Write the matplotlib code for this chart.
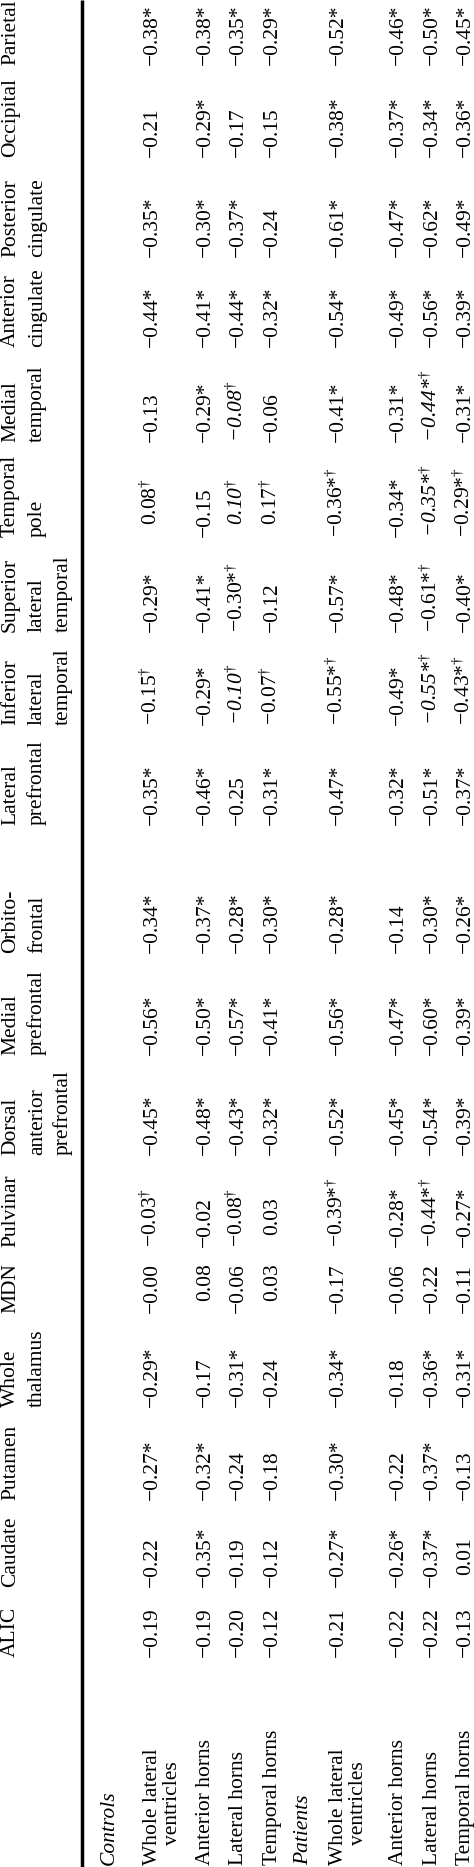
import matplotlib
matplotlib.use("Agg")
import matplotlib.pyplot as plt

plt.rcParams['font.family'] = ['Liberation Serif', 'DejaVu Serif']
plt.rcParams['mathtext.fontset'] = 'custom'
plt.rcParams['mathtext.rm'] = 'Liberation Serif'
plt.rcParams['mathtext.it'] = 'Liberation Serif:italic'
plt.rcParams['mathtext.fallback'] = 'stix'

# column headers (one entry per header line)
headers = [["ALIC"], ["Caudate"], ["Putamen"], ["Whole", "thalamus"], ["MDN"],
           ["Pulvinar"], ["Dorsal", "anterior", "prefrontal"], ["Medial", "prefrontal"],
           ["Orbito-", "frontal"], ["Lateral", "prefrontal"], ["Inferior", "lateral", "temporal"],
           ["Superior", "lateral", "temporal"], ["Temporal", "pole"], ["Medial", "temporal"],
           ["Anterior", "cingulate"], ["Posterior", "cingulate"], ["Occipital"], ["Parietal"]]

row_labels = ["Whole lateral\nventricles", "Anterior horns", "Lateral horns", "Temporal horns",
              "Whole lateral\nventricles", "Anterior horns", "Lateral horns", "Temporal horns"]
groups = ["Controls", "Patients"]

values = [
    ["-0.19", "-0.22", "-0.27*", "-0.29*", "-0.00", "-0.03†", "-0.45*", "-0.56*", "-0.34*", "-0.35*", "-0.15†", "-0.29*", "0.08†", "-0.13", "-0.44*", "-0.35*", "-0.21", "-0.38*"],
    ["-0.19", "-0.35*", "-0.32*", "-0.17", "0.08", "-0.02", "-0.48*", "-0.50*", "-0.37*", "-0.46*", "-0.29*", "-0.41*", "-0.15", "-0.29*", "-0.41*", "-0.30*", "-0.29*", "-0.38*"],
    ["-0.20", "-0.19", "-0.24", "-0.31*", "-0.06", "-0.08†", "-0.43*", "-0.57*", "-0.28*", "-0.25", "-0.10†", "-0.30*†", "0.10†", "-0.08†", "-0.44*", "-0.37*", "-0.17", "-0.35*"],
    ["-0.12", "-0.12", "-0.18", "-0.24", "0.03", "0.03", "-0.32*", "-0.41*", "-0.30*", "-0.31*", "-0.07†", "-0.12", "0.17†", "-0.06", "-0.32*", "-0.24", "-0.15", "-0.29*"],
    ["-0.21", "-0.27*", "-0.30*", "-0.34*", "-0.17", "-0.39*†", "-0.52*", "-0.56*", "-0.28*", "-0.47*", "-0.55*†", "-0.57*", "-0.36*†", "-0.41*", "-0.54*", "-0.61*", "-0.38*", "-0.52*"],
    ["-0.22", "-0.26*", "-0.22", "-0.18", "-0.06", "-0.28*", "-0.45*", "-0.47*", "-0.14", "-0.32*", "-0.49*", "-0.48*", "-0.34*", "-0.31*", "-0.49*", "-0.47*", "-0.37*", "-0.46*"],
    ["-0.22", "-0.37*", "-0.37*", "-0.36*", "-0.22", "-0.44*†", "-0.54*", "-0.60*", "-0.30*", "-0.51*", "-0.55*†", "-0.61*†", "-0.35*†", "-0.44*†", "-0.56*", "-0.62*", "-0.34*", "-0.50*"],
    ["-0.13", "0.01", "-0.13", "-0.31*", "-0.11", "-0.27*", "-0.39*", "-0.39*", "-0.26*", "-0.37*", "-0.43*†", "-0.40*", "-0.29*†", "-0.31*", "-0.39*", "-0.49*", "-0.36*", "-0.45*"],
]
italic_cells = [(2, 10), (2, 12), (2, 13), (6, 10), (6, 12), (6, 13)]

# layout (pixel coordinates, table is rotated 90 degrees)
col_start = [1657, 1587, 1500, 1407, 1313, 1247, 1155, 1055, 953, 825, 725, 632, 537, 442, 347, 257, 157, 65]
head_base = [15, 42, 68]
row_base = [157, 210, 243, 277, 343, 403, 437, 470]
group_base = [114, 308]
label_start = 1865
fs = 15.5

fig = plt.figure(figsize=(4.74, 18.67), dpi=100)
ax = fig.add_axes([0, 0, 1, 1])
ax.set_xlim(0, 474)
ax.set_ylim(1867, 0)
ax.set_axis_off()

def rtext(x, y, s, **kw):
    ax.text(x, y, s, rotation=90, rotation_mode='anchor', ha='left', va='baseline',
            fontsize=fs, **kw)

for c, lines in enumerate(headers):
    for k, line in enumerate(lines):
        rtext(head_base[k], col_start[c], line)

ax.plot([82, 82], [0, 1867], color='black', lw=2.5, solid_capstyle='butt')

for g, name in enumerate(groups):
    rtext(group_base[g], label_start, name, style='italic')

for r, lab in enumerate(row_labels):
    parts = lab.split("\n")
    rtext(row_base[r], label_start, parts[0])
    if len(parts) > 1:
        rtext(row_base[r] + 20, label_start - 20, parts[1])

for r, row in enumerate(values):
    for c, v in enumerate(row):
        y = col_start[c]
        if not v.startswith("-"):
            y -= 12
        s = v.replace("-", "\u2212")
        if "†" in s:
            s = s.replace("†", "") + r"$^{\dagger}$"
        style = 'italic' if (r, c) in italic_cells else 'normal'
        rtext(row_base[r], y, s, style=style)

fig.savefig("out.png", dpi=100)
